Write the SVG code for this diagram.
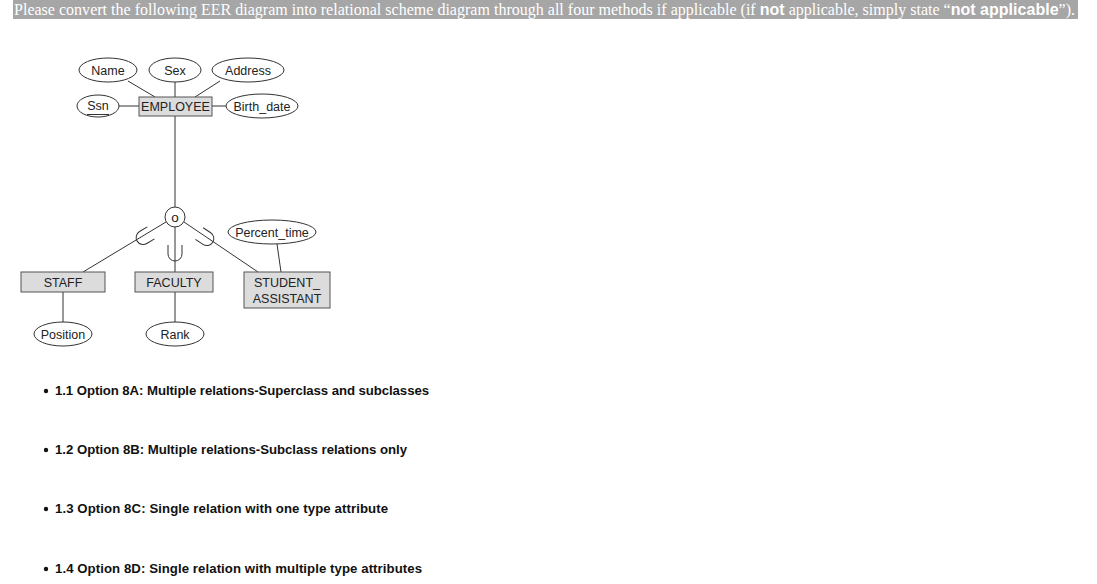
<svg xmlns="http://www.w3.org/2000/svg" width="1097" height="584" viewBox="0 0 1097 584">
<defs>
<style>
.ent{fill:#dcdcdc;stroke:#555;stroke-width:1}
.att{fill:#fff;stroke:#333;stroke-width:1}
.ln{stroke:#333;stroke-width:1;fill:none}
.lbl{font-family:"Liberation Sans",Arial,sans-serif;font-size:12.5px;fill:#222;text-anchor:middle}
.item{font-family:"Liberation Sans",Arial,sans-serif;font-size:13.2px;font-weight:bold;fill:#111}
.title{font-family:"Liberation Serif","Times New Roman",serif;font-size:16px;fill:#fff}
.tb{font-family:"Liberation Sans",Arial,sans-serif;font-weight:bold}
</style>
<path id="cup" d="M-7,-8 V1 A7,7 0 0 0 7,1 V-8" class="ln"/>
</defs>
<rect width="1097" height="584" fill="#fff"/>
<g id="title">
<rect x="13" y="0" width="1065" height="19" fill="#a6a6a6"/>
<text class="title" x="14" y="15" textLength="1061">Please convert the following EER diagram into relational scheme diagram through all four methods if applicable (if <tspan class="tb">not</tspan> applicable, simply state “<tspan class="tb">not applicable</tspan>”).</text>
</g>
<g id="connectors">
<line class="ln" x1="128" y1="81" x2="155" y2="97"/>
<line class="ln" x1="175" y1="82" x2="175" y2="97"/>
<line class="ln" x1="220" y1="81" x2="195" y2="97"/>
<line class="ln" x1="119" y1="106" x2="139" y2="106"/>
<line class="ln" x1="212" y1="106" x2="226" y2="106"/>
<line class="ln" x1="175" y1="116" x2="175" y2="207"/>
<line class="ln" x1="166" y1="222" x2="83" y2="272"/>
<line class="ln" x1="175" y1="227" x2="175" y2="272"/>
<line class="ln" x1="184" y1="222" x2="258" y2="272"/>
<line class="ln" x1="277" y1="244" x2="281" y2="272"/>
<line class="ln" x1="63" y1="292" x2="63" y2="322"/>
<line class="ln" x1="175" y1="292" x2="175" y2="322"/>
<use href="#cup" transform="translate(175,253)"/>
<use href="#cup" transform="translate(144,237) rotate(59)"/>
<use href="#cup" transform="translate(206,238) rotate(-56.5)"/>
</g>
<g id="name"><ellipse class="att" cx="108" cy="70" rx="29" ry="12"/><text class="lbl" x="108" y="75">Name</text></g>
<g id="sex"><ellipse class="att" cx="175" cy="70" rx="26" ry="12"/><text class="lbl" x="175" y="75">Sex</text></g>
<g id="address"><ellipse class="att" cx="248" cy="70" rx="36" ry="12"/><text class="lbl" x="248" y="75">Address</text></g>
<g id="ssn"><ellipse class="att" cx="98" cy="106" rx="21" ry="11"/><text class="lbl" x="98" y="110">Ssn</text><line class="ln" x1="87" y1="114.5" x2="109" y2="114.5"/></g>
<g id="employee"><rect class="ent" x="139" y="97" width="73" height="19"/><text class="lbl" x="175.5" y="111">EMPLOYEE</text></g>
<g id="birth_date"><ellipse class="att" cx="262" cy="106" rx="36" ry="12"/><text class="lbl" x="262" y="111">Birth_date</text></g>
<g id="overlap"><circle class="att" cx="175" cy="217" r="10"/><text class="lbl" x="175" y="221.5" style="font-size:13.5px">o</text></g>
<g id="percent_time"><ellipse class="att" cx="272" cy="232" rx="44" ry="12"/><text class="lbl" x="272" y="237">Percent_time</text></g>
<g id="staff"><rect class="ent" x="21" y="272" width="84" height="20"/><text class="lbl" x="63" y="287">STAFF</text></g>
<g id="faculty"><rect class="ent" x="135" y="272" width="78" height="20"/><text class="lbl" x="174" y="287">FACULTY</text></g>
<g id="student_assistant"><rect class="ent" x="244" y="272" width="86" height="36"/><text class="lbl" x="287" y="287">STUDENT_</text><text class="lbl" x="287" y="303">ASSISTANT</text></g>
<g id="position"><ellipse class="att" cx="63" cy="334" rx="29" ry="12"/><text class="lbl" x="63" y="339">Position</text></g>
<g id="rank"><ellipse class="att" cx="175" cy="334" rx="29" ry="12"/><text class="lbl" x="175" y="339">Rank</text></g>
<g id="list">
<circle cx="46" cy="391" r="2.2" fill="#111"/><text class="item" x="55" y="395" textLength="374">1.1 Option 8A: Multiple relations-Superclass and subclasses</text>
<circle cx="46" cy="450" r="2.2" fill="#111"/><text class="item" x="55" y="454" textLength="352">1.2 Option 8B: Multiple relations-Subclass relations only</text>
<circle cx="46" cy="509" r="2.2" fill="#111"/><text class="item" x="55" y="513" textLength="333">1.3 Option 8C: Single relation with one type attribute</text>
<circle cx="46" cy="569" r="2.2" fill="#111"/><text class="item" x="55" y="573" textLength="367">1.4 Option 8D: Single relation with multiple type attributes</text>
</g>
</svg>
